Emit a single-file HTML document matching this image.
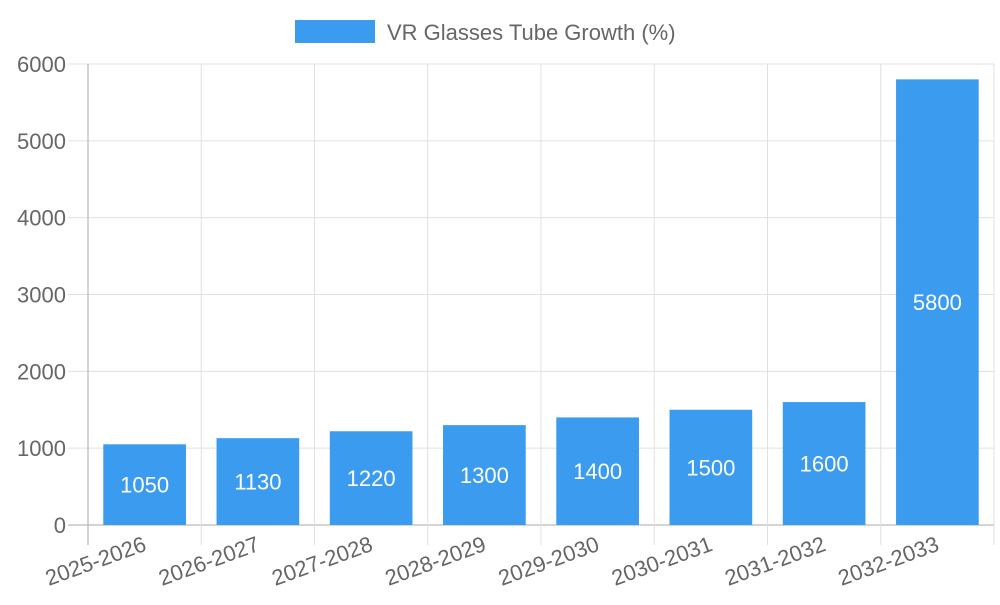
<!DOCTYPE html>
<html><head><meta charset="utf-8"><style>
body{margin:0;background:#fff;}
svg text{font-family:"Liberation Sans",sans-serif;}
</style></head><body>
<svg id="chart" width="1000" height="600" xmlns="http://www.w3.org/2000/svg">
<rect x="295" y="20" width="80" height="23" fill="#3a9bef"/>
<text x="387" y="40" font-size="22" fill="#666">VR Glasses Tube Growth (%)</text>
<g id="grid"></g><g id="bars"></g>
</svg>
<script>
const categories=["2025-2026","2026-2027","2027-2028","2028-2029","2029-2030","2030-2031","2031-2032","2032-2033"];
const values=[1050,1130,1220,1300,1400,1500,1600,5800];
const yTicks=[0,1000,2000,3000,4000,5000,6000];
const NS="http://www.w3.org/2000/svg";
const L=88,R=994,T=64,B=525,yMax=6000;
const y=v=>B-(v/yMax)*(B-T);
const bw=(R-L)/categories.length;
const x=i=>L+i*bw;
const grid=document.getElementById('grid'),bars=document.getElementById('bars');
function mk(tag,attrs,parent){const e=document.createElementNS(NS,tag);for(const k in attrs)e.setAttribute(k,attrs[k]);parent.appendChild(e);return e;}
yTicks.forEach(v=>{
  const ln=mk('line',{x1:68,x2:R,y1:y(v),y2:y(v),stroke:v===0?'#aaa':'#e0e0e0','stroke-width':1},grid);
  
  
  const t=mk('text',{x:66,y:y(v)+8,'text-anchor':'end','font-size':22,fill:'#666'},grid);
  t.textContent=v;
  
  
});
for(let i=0;i<=categories.length;i++){
  const ln=mk('line',{x1:x(i),x2:x(i),y1:T,y2:545,stroke:i===0?'#aaa':'#e0e0e0','stroke-width':1},grid);
  
  
}
categories.forEach((c,i)=>{
  const bx=x(i)+bw*0.135,w=bw*0.73;
  const r=mk('rect',{x:bx,y:y(values[i]),width:w,height:B-y(values[i]),fill:'#3a9bef'},bars);
  
  
  const vt=mk('text',{x:bx+w/2,y:(y(values[i])+B)/2+8,'text-anchor':'middle','font-size':22,fill:'#fff'},bars);
  vt.textContent=values[i];
  
  
  const cx=x(i)+bw/2+3,cy=550;
  const t=mk('text',{x:cx,y:cy,'text-anchor':'end','font-size':22,fill:'#666',transform:`rotate(-20 ${cx} ${cy})`},grid);
  t.textContent=c;
  
  
});
</script>
</body></html>
